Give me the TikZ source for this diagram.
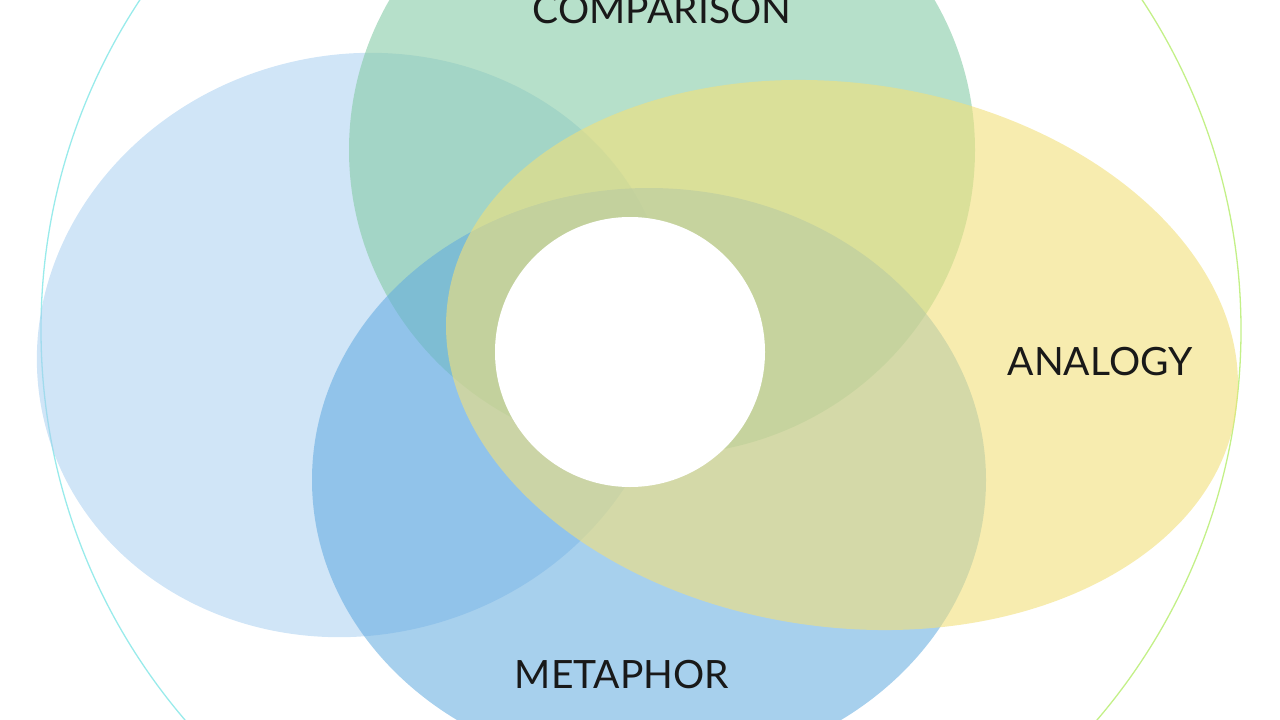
\documentclass[tikz,border=0pt]{standalone}
\usepackage{fontspec}
\setmainfont{Lato}
\begin{document}
\begin{tikzpicture}[x=1pt,y=-1pt,
  lbl/.style={font=\fontsize{39}{42}\selectfont, text=black!90}]
\definecolor{lb}{HTML}{A9CFF0}
\definecolor{gr}{HTML}{86CBA6}
\definecolor{ye}{HTML}{F2E07A}
\definecolor{bl}{HTML}{5FA9DF}
\useasboundingbox (0,0) rectangle (1280,720);
\begin{scope}
\clip (0,0) rectangle (1280,720);
\draw[color=teal!40!cyan!40, line width=1.3pt] (641,330) ++(90:600) arc (90:270:600);
\draw[color=ye!70!green!70, line width=1.3pt] (641,330) ++(90:600) arc (90:-90:600);
\fill[lb, opacity=0.55] (355,345) ellipse [x radius=320, y radius=290, rotate=15];
\fill[gr, opacity=0.6] (662,150) ellipse [x radius=313, y radius=305];
\fill[bl, opacity=0.55] (649,480) ellipse [x radius=337, y radius=292];
\fill[ye, opacity=0.6] (842,355) ellipse [x radius=398, y radius=272, rotate=-8];
\fill[white] (630,352) circle (135);
\node[lbl] (cmp) at (662,10) {COMPARISON};
\node[lbl] (ana) at (1100,362) {ANALOGY};
\node[lbl] (met) at (622,675) {METAPHOR};
\end{scope}
\end{tikzpicture}
\end{document}
